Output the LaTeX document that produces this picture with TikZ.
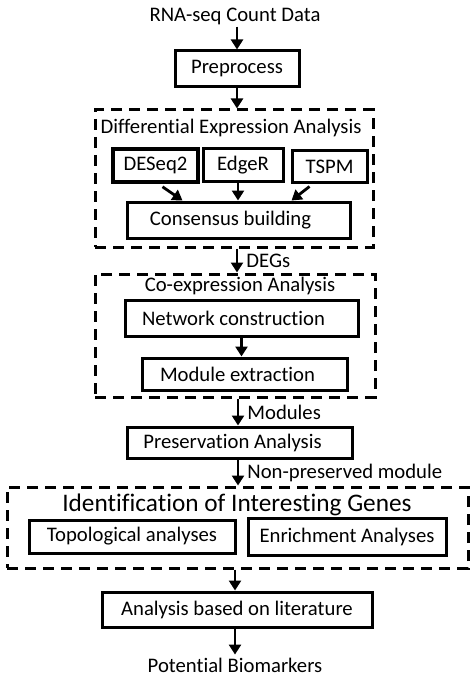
\documentclass[tikz,border=0pt]{standalone}
\usepackage{fontspec}
\setmainfont{Carlito}[Ligatures=CommonOff]
\usetikzlibrary{arrows.meta,calc}
\newcommand{\lowtext}[1]{\raisebox{-3pt}{#1}}
\tikzset{
  box/.style={draw=black, line width=3pt, rectangle, inner sep=0pt, font=\fontsize{20.7}{24}\selectfont},
  thickbox/.style={box, line width=3.6pt},
  dashbox/.style={draw=black, line width=3pt, rectangle, dash pattern=on 11pt off 7pt, inner sep=0pt},
  title/.style={inner sep=0pt, font=\fontsize{20.7}{24}\selectfont},
  bigtitle/.style={inner sep=0pt, font=\fontsize{25.3}{28}\selectfont},
  plain/.style={inner sep=0pt, font=\fontsize{20.7}{24}\selectfont},
  arr/.style={line width=2.8pt, -{Triangle[width=12pt,length=10pt]}},
  lab/.style={right, inner sep=0pt, xshift=8pt, font=\fontsize{20.7}{24}\selectfont}
}
\begin{document}
\begin{tikzpicture}[x=1pt,y=-1pt]
\useasboundingbox (0,0) rectangle (474,679);
% texts
\node[plain] (rna) at (235,16) {RNA-seq Count Data};
\node[box, minimum width=124pt, minimum height=36pt] (pre) at (237,69) {\lowtext{Preprocess}};
% DEA
\node[dashbox, minimum width=278pt, minimum height=137pt] (dea) at (234,178.5) {};
\node[title] (deat) at (231,127.5) {Differential Expression Analysis};
\node[thickbox, minimum width=85pt, minimum height=33pt] (deseq) at (155.5,165.5) {\lowtext{DESeq2}};
\node[box, minimum width=80pt, minimum height=32pt] (edger) at (243,165) {\lowtext{EdgeR}};
\node[box, minimum width=75pt, minimum height=31pt] (tspm) at (329.5,166.5) {\lowtext{TSPM}};
\node[box, minimum width=223pt, minimum height=36pt] (cons) at (238.5,220) {\lowtext{Consensus building\hspace*{16pt}}};
% Co-expression
\node[dashbox, minimum width=280pt, minimum height=123pt] (co) at (235,335.5) {};
\node[title] (cot) at (240,285.5) {Co-expression Analysis};
\node[box, minimum width=233pt, minimum height=36pt] (net) at (241.5,318) {\lowtext{Network construction\hspace*{16pt}}};
\node[box, minimum width=205pt, minimum height=32pt] (mod) at (244.5,374) {\lowtext{Module extraction\hspace*{14pt}}};
% Preservation
\node[box, minimum width=225pt, minimum height=31pt] (pres) at (239.5,442.5) {\lowtext{Preservation Analysis\hspace*{14pt}}};
% Identification
\node[dashbox, minimum width=461pt, minimum height=81pt] (ident) at (237.5,527.5) {};
\node[bigtitle] (idt) at (237,505) {Identification of Interesting Genes};
\node[box, minimum width=206pt, minimum height=33pt] (topo) at (132,536.5) {\lowtext{Topological analyses}};
\node[box, minimum width=198pt, minimum height=37pt] (enr) at (347,536.5) {\lowtext{Enrichment Analyses}};
% Literature
\node[box, minimum width=270pt, minimum height=35pt] (lit) at (237,609.5) {\lowtext{Analysis based on literature}};
\node[plain] (bio) at (235,665) {Potential Biomarkers};
% arrows
\draw[arr] ([yshift=-2pt]rna.south -| pre.north) -- (pre.north);
\draw[arr] (pre.south) -- (pre.south |- dea.north);
\draw[arr] ([xshift=7pt,yshift=-3pt]deseq.south) -- ([xshift=-56pt]cons.north);
\draw[arr] ([xshift=-5pt]edger.south) -- ([xshift=-5pt]edger.south |- cons.north);
\draw[arr] ([xshift=-20pt,yshift=-3pt]tspm.south) -- ([xshift=53pt]cons.north);
\draw[arr] ([xshift=3pt]dea.south) -- ([xshift=3pt]dea.south |- co.north) node[lab, midway] {DEGs};
\draw[arr] (net.south) -- (net.south |- mod.north);
\draw[arr] ([xshift=3pt]co.south) -- ([xshift=3pt]co.south |- pres.north) node[lab, midway] {Modules};
\draw[arr] ([xshift=-1.5pt]pres.south) -- ([xshift=-1.5pt]pres.south |- ident.north) node[lab, midway] {Non-preserved module};
\draw[arr] ([xshift=-2.5pt]ident.south) -- ([xshift=-2.5pt]ident.south |- lit.north);
\draw[arr] ([xshift=-2pt]lit.south) -- ([xshift=-2pt,yshift=3pt]lit.south |- bio.north);
\end{tikzpicture}
\end{document}
